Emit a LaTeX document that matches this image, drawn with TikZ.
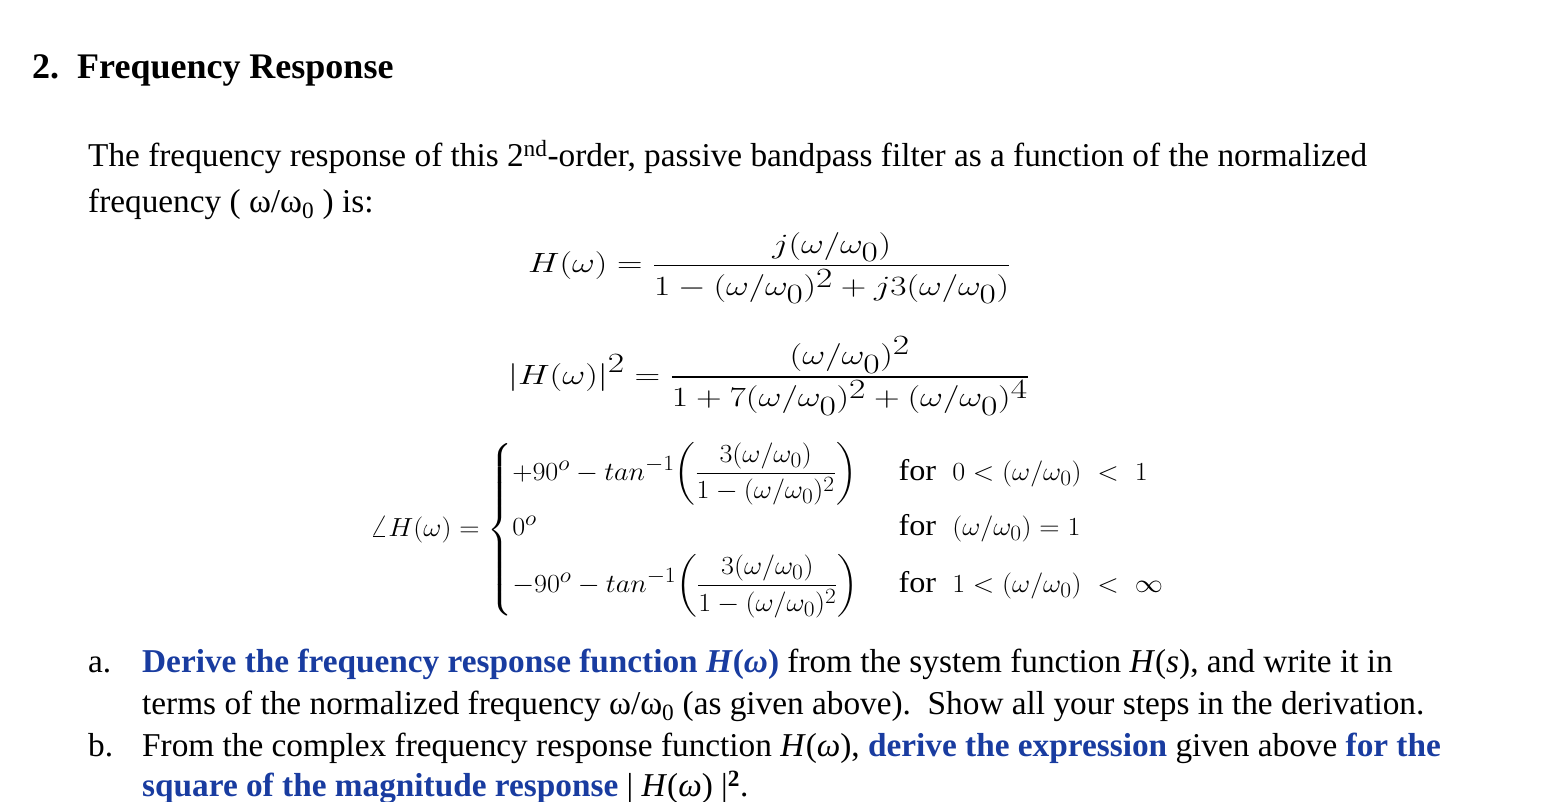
\documentclass[tikz,border=0pt]{standalone}
\usepackage{amsmath}
\usepackage{fontspec}
\setmainfont{Liberation Serif}
\definecolor{qblue}{RGB}{25,60,160}
\begin{document}
\begin{tikzpicture}[x=1pt,y=-1pt,
  txt/.style={anchor=base west,inner sep=0pt,font=\fontsize{33.3}{40}\selectfont},
  eq/.style={inner sep=0pt,font=\fontsize{38}{46}\selectfont}]
\useasboundingbox (0,0) rectangle (1548,801);
\node[txt,font=\fontsize{36}{42}\selectfont\bfseries] (title) at (32,78) {2.\ \ Frequency Response};
\node[txt] (l1) at (88,166) {The frequency response of this 2\textsuperscript{nd}-order, passive bandpass filter as a function of the normalized};
\node[txt] (l2) at (88,212) {frequency ( ω/ω\textsubscript{0} ) is:};
\node[eq,anchor=west] (e1) at (528,268) {\scalebox{1.42}[1.12]{$\displaystyle H(\omega)=\frac{j(\omega/\omega_0)}{1-(\omega/\omega_0)^2+j3(\omega/\omega_0)}$}};
\node[eq,anchor=west] (e2) at (508,376) {\scalebox{1.43}[1.12]{$\displaystyle |H(\omega)|^2=\frac{(\omega/\omega_0)^2}{1+7(\omega/\omega_0)^2+(\omega/\omega_0)^4}$}};
\node[eq,anchor=west,font=\fontsize{28.5}{34}\selectfont] (e3) at (370,530) {\scalebox{1.13}[1.05]{$\angle H(\omega)=\begin{cases}
+90^o-tan^{-1}\!\left(\dfrac{3(\omega/\omega_0)}{1-(\omega/\omega_0)^2}\right) & \ \text{for}\ \ 0<(\omega/\omega_0)\ <\ 1\\[6pt]
0^o & \ \text{for}\ \ (\omega/\omega_0)=1\\[6pt]
-90^o-tan^{-1}\!\left(\dfrac{3(\omega/\omega_0)}{1-(\omega/\omega_0)^2}\right) & \ \text{for}\ \ 1<(\omega/\omega_0)\ <\ \infty
\end{cases}$}};
\node[txt] (a) at (88,672) {a.};
\node[txt] (a1) at (142,672) {\textcolor{qblue}{\bfseries Derive the frequency response function \textit{H}(\textit{ω})} from the system function \textit{H}(\textit{s}), and write it in};
\node[txt] (a2) at (142,714) {terms of the normalized frequency ω/ω\textsubscript{0} (as given above).\ \ Show all your steps in the derivation.};
\node[txt] (b) at (88,756) {b.};
\node[txt] (b1) at (142,756) {From the complex frequency response function \textit{H}(\textit{ω}), \textcolor{qblue}{\bfseries derive the expression} given above \textcolor{qblue}{\bfseries for the}};
\node[txt] (b2) at (142,796) {\textcolor{qblue}{\bfseries square of the magnitude response} | \textit{H}(\textit{ω}) |\textsuperscript{\bfseries 2}.};
\end{tikzpicture}
\end{document}
